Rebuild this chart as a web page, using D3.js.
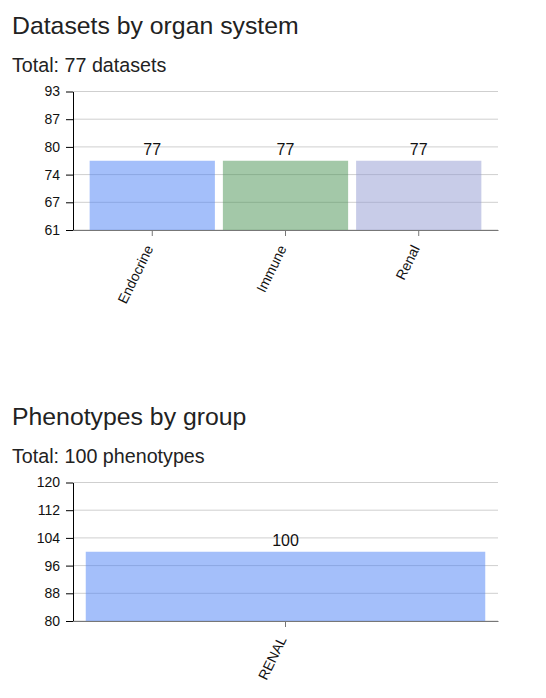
<!DOCTYPE html>
<html>
<head>
<meta charset="utf-8">
<script src="https://cdn.jsdelivr.net/npm/d3@7"></script>
<style>
  html, body { margin: 0; padding: 0; background: #fff; }
  svg text { font-family: Arial, "Liberation Sans", sans-serif; }
</style>
</head>
<body>
<svg id="chart" width="546" height="698"></svg>
<script>
// ---- Data ----
const organTitle = "Datasets by organ system";
const organSubtitle = "Total: 77 datasets";
const organCategories = ["Endocrine", "Immune", "Renal"];
const organValues = [77, 77, 77];
const organColors = ["#497ff5", "#479151", "#9199d1"];

const phenoTitle = "Phenotypes by group";
const phenoSubtitle = "Total: 100 phenotypes";
const phenoCategories = ["RENAL"];
const phenoValues = [100];
const phenoColors = ["#497ff5"];

const svg = d3.select("#chart");

function drawChart(cfg) {
  const g = svg.append("g");
  g.append("text").attr("x", 12).attr("y", cfg.top + 34)
    .style("font-size", "24.8px").attr("fill", "#222").text(cfg.title);
  g.append("text").attr("x", 12).attr("y", cfg.top + 72)
    .style("font-size", "19.7px").attr("fill", "#222").text(cfg.subtitle);

  const maxV = d3.max(cfg.values);
  const lo = Math.floor(maxV * 0.8), hi = Math.ceil(maxV * 1.2);
  const y = d3.scaleLinear().domain([lo, hi]).range([cfg.top + 230, cfg.top + 91.5]);
  const x = d3.scaleBand().domain(cfg.categories).range([73, 498])
    .paddingInner(cfg.padIn).paddingOuter(cfg.padOut);

  const tickVals = d3.range(6).map(i => lo + (hi - lo) * i / 5);

  // gridlines
  g.append("g").selectAll("line").data(tickVals).join("line")
    .attr("x1", 73).attr("x2", 498)
    .attr("y1", d => y(d)).attr("y2", d => y(d))
    .attr("stroke", "#cfcfcf").attr("stroke-width", 1);

  // bars
  g.append("g").selectAll("rect").data(cfg.categories).join("rect")
    .attr("x", d => x(d)).attr("width", x.bandwidth())
    .attr("y", (d, i) => y(cfg.values[i]))
    .attr("height", (d, i) => y(lo) - y(cfg.values[i]))
    .attr("fill", (d, i) => cfg.colors[i]).attr("fill-opacity", 0.5);

  // value labels
  g.append("g").selectAll("text").data(cfg.categories).join("text")
    .attr("x", d => x(d) + x.bandwidth() / 2)
    .attr("y", (d, i) => y(cfg.values[i]) - 6)
    .attr("text-anchor", "middle").style("font-size", "16px").attr("fill", "#111")
    .text((d, i) => cfg.values[i]);

  // y axis
  const yAxis = g.append("g").attr("transform", "translate(73,0)")
    .call(d3.axisLeft(y).tickValues(tickVals).tickFormat(d3.format(".0f"))
      .tickSizeOuter(0).tickSizeInner(7).tickPadding(6));
  yAxis.attr("font-size", null).attr("font-family", null);
  yAxis.select(".domain").attr("stroke", "#000");
  yAxis.selectAll(".tick line").attr("stroke", "#000");
  yAxis.selectAll(".tick text").style("font-size", "14px").attr("fill", "#111");

  // x axis
  const xAxis = g.append("g").attr("transform", `translate(0,${y(lo)})`)
    .call(d3.axisBottom(x).tickSizeOuter(0));
  xAxis.attr("font-size", null).attr("font-family", null);
  xAxis.select(".domain").attr("stroke", "#777");
  xAxis.selectAll(".tick line").attr("stroke", "#777");
  xAxis.selectAll(".tick text")
    .style("font-size", "14px").attr("fill", "#111")
    .attr("text-anchor", "end")
    .attr("x", 0).attr("y", 0).attr("dy", "0.35em")
    .attr("transform", "translate(-3,16) rotate(-64)");
}

drawChart({
  top: 0, title: organTitle, subtitle: organSubtitle,
  categories: organCategories, values: organValues, colors: organColors,
  padIn: 0.06, padOut: 0.125
});
drawChart({
  top: 391, title: phenoTitle, subtitle: phenoSubtitle,
  categories: phenoCategories, values: phenoValues, colors: phenoColors,
  padIn: 0.06, padOut: 0.03
});
</script>
</body>
</html>
